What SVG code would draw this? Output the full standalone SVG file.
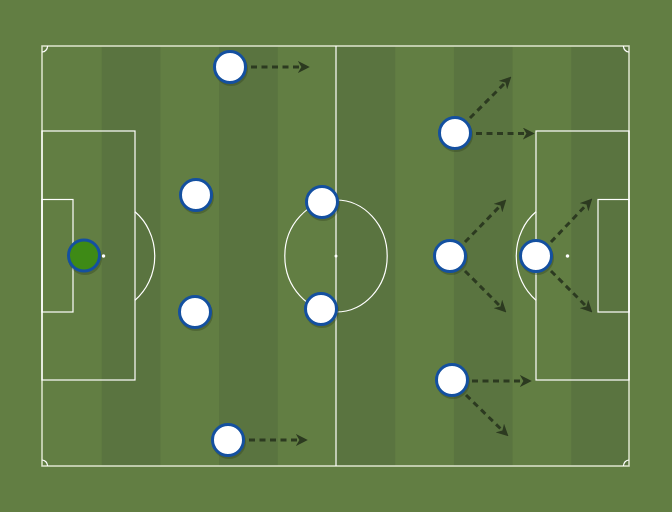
<svg xmlns="http://www.w3.org/2000/svg" width="672" height="512" viewBox="0 0 672 512">
<defs>
<style>
.line{fill:none;stroke:#ffffff;stroke-width:1.2}
.outer{fill:none;stroke:#dfe6cf;stroke-width:1.5}
.dark{fill:#5a7440}
.pl{fill:#ffffff;stroke:#1450a0;stroke-width:3}
.gk{fill:#3e8a16;stroke:#1450a0;stroke-width:3}
.sh{fill:#2e3d1e;opacity:0.35}
.arr{fill:none;stroke:#2c3a20;stroke-width:3;stroke-dasharray:6 4.5;marker-end:url(#ah)}
</style>
<marker id="ah" viewBox="0 0 10 10" refX="6" refY="5" markerWidth="4" markerHeight="4" orient="auto" markerUnits="strokeWidth">
<path d="M0,0 L10,5 L0,10 L3,5 Z" fill="#2c3a20"/>
</marker>
</defs>
<rect x="0" y="0" width="672" height="512" fill="#627e43"/>
<g id="stripes">
<rect class="dark" x="101.7" y="46" width="58.7" height="420"/>
<rect class="dark" x="219.1" y="46" width="58.7" height="420"/>
<rect class="dark" x="336.5" y="46" width="58.7" height="420"/>
<rect class="dark" x="453.9" y="46" width="58.7" height="420"/>
<rect class="dark" x="571.3" y="46" width="57.7" height="420"/>
</g>
<g id="pitch">
<rect class="outer" x="42" y="46" width="587" height="420"/>
<line class="line" x1="336" y1="46" x2="336" y2="466"/>
<ellipse class="line" cx="336" cy="256" rx="51.2" ry="56"/>
<circle cx="336" cy="256" r="1.5" fill="#ffffff"/>
<rect class="line" x="42" y="131" width="93" height="249"/>
<rect class="line" x="42" y="199.5" width="31" height="112.5"/>
<circle cx="103.5" cy="256" r="1.8" fill="#ffffff"/>
<path class="line" d="M135,211.8 A51.2,56 0 0 1 135,300.2"/>
<rect class="line" x="536" y="131" width="93" height="249"/>
<rect class="line" x="598" y="199.5" width="31" height="112.5"/>
<circle cx="567.5" cy="256" r="1.8" fill="#ffffff"/>
<path class="line" d="M536,211.8 A51.2,56 0 0 0 536,300.2"/>
<path class="line" d="M42,52 A5.6,6.2 0 0 0 47.6,46"/>
<path class="line" d="M623.4,46 A5.6,6.2 0 0 0 629,52"/>
<path class="line" d="M42,460 A5.6,6.2 0 0 1 47.6,466"/>
<path class="line" d="M629,460 A5.6,6.2 0 0 0 623.4,466"/>
</g>
<g id="connectors">
<line class="arr" x1="251" y1="67" x2="305" y2="67"/>
<line class="arr" x1="249" y1="440" x2="303" y2="440"/>
<line class="arr" x1="476" y1="133.5" x2="530" y2="133.5"/>
<line class="arr" x1="470" y1="118" x2="508" y2="80"/>
<line class="arr" x1="465" y1="242" x2="503" y2="203"/>
<line class="arr" x1="465" y1="271" x2="503" y2="309"/>
<line class="arr" x1="551" y1="242" x2="589" y2="202"/>
<line class="arr" x1="551" y1="271" x2="589" y2="309"/>
<line class="arr" x1="472" y1="381" x2="527" y2="381"/>
<line class="arr" x1="466" y1="395" x2="505" y2="433"/>
</g>
<g id="gk"><circle class="sh" cx="85" cy="258" r="17"/><circle class="gk" cx="84" cy="255.5" r="15.5"/></g>
<g id="p1"><circle class="sh" cx="231" cy="69" r="17"/><circle class="pl" cx="230" cy="67" r="15.5"/></g>
<g id="p2"><circle class="sh" cx="197" cy="197" r="17"/><circle class="pl" cx="196" cy="195" r="15.5"/></g>
<g id="p3"><circle class="sh" cx="196" cy="314" r="17"/><circle class="pl" cx="195" cy="312" r="15.5"/></g>
<g id="p4"><circle class="sh" cx="229" cy="442" r="17"/><circle class="pl" cx="228" cy="440" r="15.5"/></g>
<g id="p5"><circle class="sh" cx="323" cy="204" r="17"/><circle class="pl" cx="322" cy="202" r="15.5"/></g>
<g id="p6"><circle class="sh" cx="322" cy="311" r="17"/><circle class="pl" cx="321" cy="309" r="15.5"/></g>
<g id="p7"><circle class="sh" cx="456" cy="135" r="17"/><circle class="pl" cx="455" cy="133" r="15.5"/></g>
<g id="p8"><circle class="sh" cx="451" cy="258" r="17"/><circle class="pl" cx="450" cy="256" r="15.5"/></g>
<g id="p9"><circle class="sh" cx="537" cy="258" r="17"/><circle class="pl" cx="536" cy="256" r="15.5"/></g>
<g id="p10"><circle class="sh" cx="453" cy="382" r="17"/><circle class="pl" cx="452" cy="380" r="15.5"/></g>
</svg>
